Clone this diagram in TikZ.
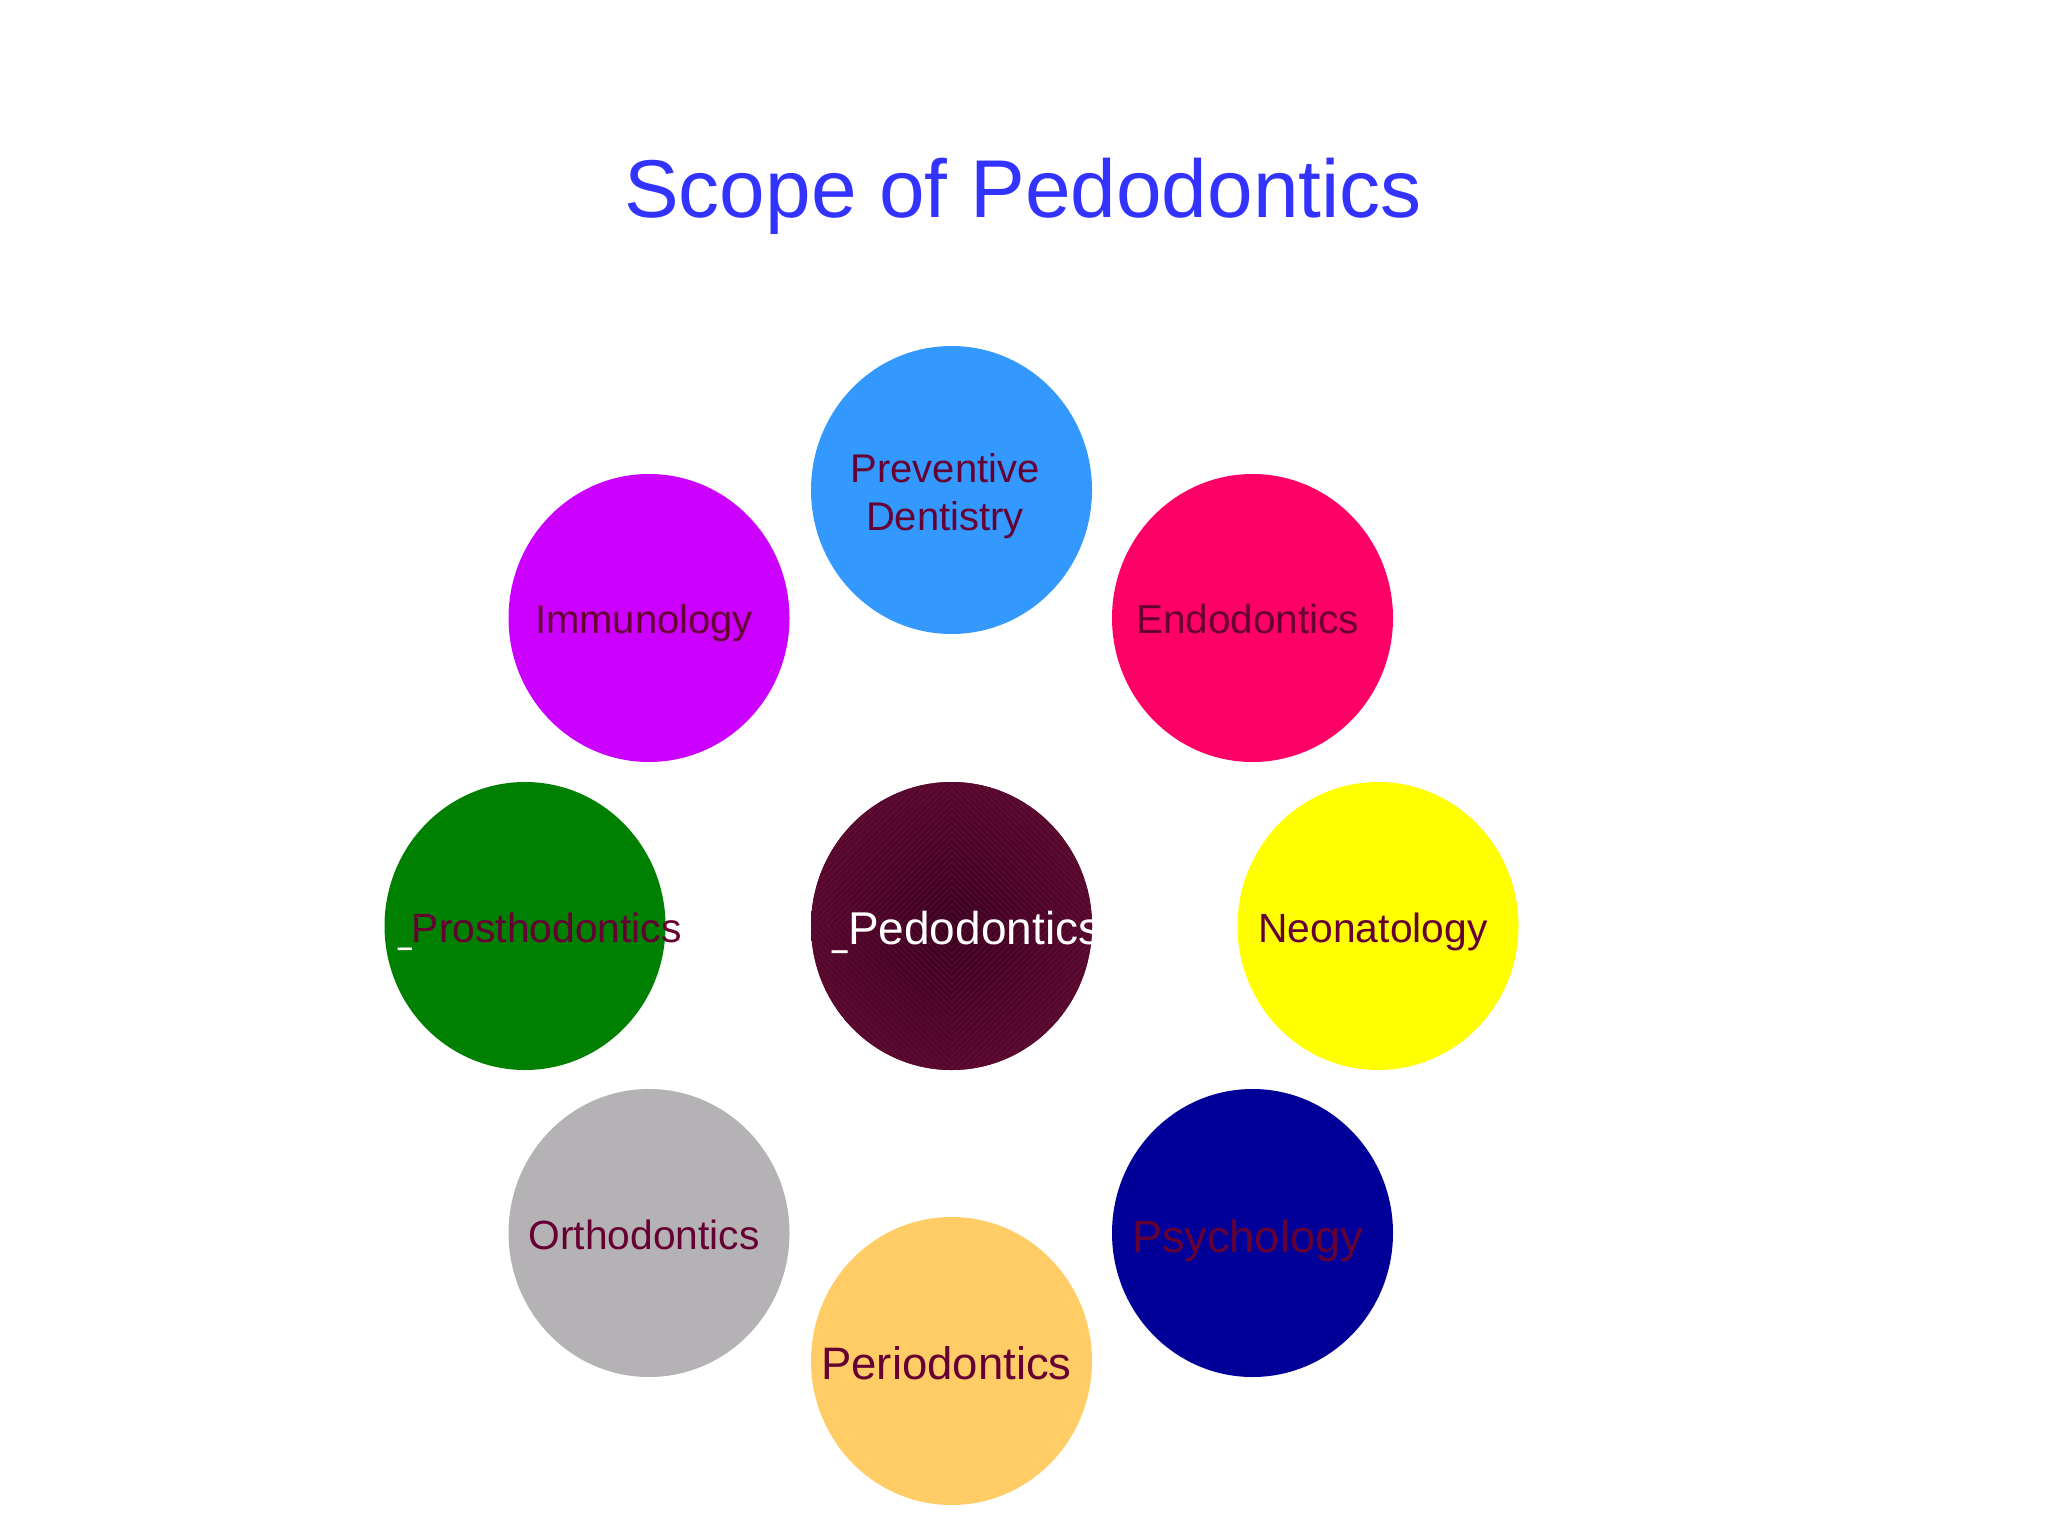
\documentclass[tikz,border=0pt]{standalone}
\usepackage{fontspec}
\setmainfont{Liberation Sans}
\usetikzlibrary{shapes.geometric}
\definecolor{titleblue}{RGB}{51,51,255}
\definecolor{lbl}{RGB}{102,0,51}
\definecolor{cprevc}{RGB}{51,153,255}
\definecolor{cendoc}{RGB}{255,0,102}
\definecolor{cimmc}{RGB}{204,0,255}
\definecolor{cprosc}{RGB}{0,128,0}
\definecolor{cneoc}{RGB}{255,255,0}
\definecolor{cpsyc}{RGB}{0,0,153}
\definecolor{corthc}{RGB}{180,178,180}
\definecolor{cperic}{RGB}{255,204,102}
\definecolor{cpedc}{RGB}{88,8,46}
\definecolor{cpedin}{RGB}{58,0,32}
\definecolor{cpedln}{RGB}{130,30,75}
\newcommand{\narrowus}{\scalebox{0.6}[1]{\_}}
\tikzset{
  bub/.style={ellipse, minimum width=140.5pt, minimum height=144pt, inner sep=0pt, draw=none},
  lab/.style={anchor=base, text=lbl, inner sep=0pt, font=\fontsize{20}{24}\selectfont},
  pedlines/.style={draw=cpedln, line width=0.35pt, opacity=0.45}
}
\begin{document}
\begin{tikzpicture}[x=0.5pt,y=-0.5pt]
\useasboundingbox (0,0) rectangle (2048,1535);
\fill[white] (0,0) rectangle (2048,1535);
% title
\node[anchor=base, text=titleblue, inner sep=0pt, font=\fontsize{41}{49}\selectfont] (title) at (1023,218) {Scope of Pedodontics};
% circles
\node[bub, fill=cprevc] (cprev) at (951.5,490) {};
\node[bub, fill=cimmc] (cimm) at (649,618) {};
\node[bub, fill=cendoc] (cendo) at (1252.5,618) {};
\node[bub, fill=cprosc] (cpros) at (525,926) {};
\node[bub, fill=cpedc] (cped) at (951.5,926) {};
\node[bub, fill=cneoc] (cneo) at (1378,926) {};
\node[bub, fill=corthc] (corth) at (649,1233) {};
\node[bub, fill=cpsyc] (cpsy) at (1252.5,1233) {};
\node[bub, fill=cperic] (cperi) at (951.5,1361) {};
% texture of the centre circle
\begin{scope}
  \clip (951.5,926) ellipse [x radius=140.5, y radius=144];
  \shade[inner color=cpedin, outer color=cpedc] (951.5,926) ellipse [x radius=150, y radius=154];
  \foreach \k in {4,10,...,300} {
    \draw[pedlines] ({951.5+\k},926) -- (951.5,{926+\k}) -- ({951.5-\k},926) -- (951.5,{926-\k}) -- cycle;
  }
\end{scope}
% labels
\node[lab, align=center] (tprev) at (945,530) {Preventive\\Dentistry};
\node[lab] (timm) at (644,633) {Immunology};
\node[lab, font=\fontsize{20.25}{24}\selectfont] (tendo) at (1247.5,633) {Endodontics};
\node[lab, font=\fontsize{20.4}{24}\selectfont] (tpros) at (540,942) {\textcolor{white}{\narrowus}Prosthodontics};
\node[lab, text=white, font=\fontsize{23}{27}\selectfont] (tped) at (967,944) {\narrowus Pedodontics};
\node[lab, font=\fontsize{20.4}{24}\selectfont] (tneo) at (1373,942) {Neonatology};
\node[lab, font=\fontsize{20.4}{24}\selectfont] (torth) at (644,1249) {Orthodontics};
\node[lab, font=\fontsize{22.5}{27}\selectfont] (tpsy) at (1247.5,1252) {Psychology};
\node[lab, font=\fontsize{22.75}{27}\selectfont] (tperi) at (946.5,1379) {Periodontics};
\end{tikzpicture}
\end{document}
